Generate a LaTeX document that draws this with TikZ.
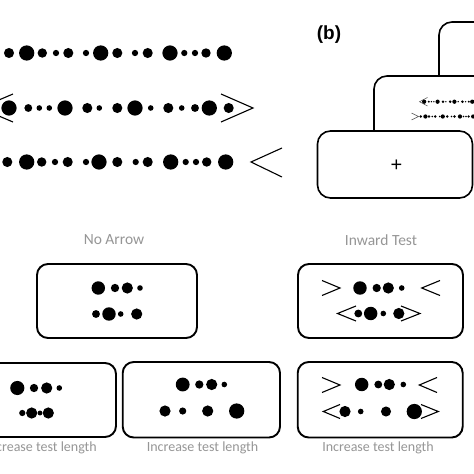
\documentclass[tikz,border=0pt]{standalone}
\usepackage{fontspec}
\setmainfont{Liberation Sans}
\newfontfamily\labfont{Carlito}
\definecolor{labgray}{RGB}{150,150,150}
\newcommand\dotrow[2]{\foreach \xx/\rr in {#2} {\fill (\xx,#1) circle[radius={1.12*\rr*1pt}];}}
\newcommand\dotrowS[4]{\foreach \xx/\rr in {#4} {\fill ({#1+#3*\xx},#2) circle[radius={max(0.7,1.3*#3*\rr)*1pt}];}}
\tikzset{
  box/.style={draw=black, line width=1.9pt, rounded corners=11pt, fill=white},
  stackbox/.style={draw=black, line width=1.6pt, rounded corners=13pt, fill=white},
  chev/.style={line width=1.1pt, line cap=butt, line join=miter},
  tinychev/.style={line width=0.5pt, draw=black!70},
  toplab/.style={text=labgray, font=\labfont\fontsize{15.5}{18}\selectfont, inner sep=0pt},
  botlab/.style={text=labgray, font=\labfont\fontsize{14}{16}\selectfont, inner sep=0pt},
}
\begin{document}
\begin{tikzpicture}[x=1pt,y=-1pt]
\useasboundingbox (0,0) rectangle (474,474);
\clip (0,0) rectangle (474,474);
\fill[white] (0,0) rectangle (474,474);

% ---------- (a) rows ----------
\dotrow{53}{9/4.5,26.7/6.8,42.3/4.2,56/2.8,68.3/4.5,86/2.8,100.7/6.8,117.3/4.5,135/2.8,147.7/4.5,170/6.8,184.3/2.8,195/2.8,206/4.2,224.3/6.8}
\dotrow{108}{9/6.8,28.3/3.5,39.3/2.5,49.3/2.5,65/6.8,87.3/4.5,99.3/2.5,117.3/4.5,135/6.8,150.7/2.5,168.3/4.5,181.7/2.5,195/3.5,209.3/6.8,228.7/4.5}
\coordinate (la1) at (13,94); \coordinate (lat) at (-20,108); \coordinate (la2) at (13,122);
\coordinate (ra1) at (221,94); \coordinate (rat) at (253,108); \coordinate (ra2) at (221,122);
\draw[chev] (la1) -- (lat) -- (la2);
\draw[chev] (ra1) -- (rat) -- (ra2);
\dotrow{162}{7.3/4.5,26.7/6.8,41.7/4.2,55/2.8,67.7/4.5,86/2.8,99/6.8,117.3/4.5,135.7/2.8,147.7/4.5,170.7/6.8,185.7/2.8,196/2.8,206.7/4.2,225.7/6.8}
\coordinate (c1) at (282,148); \coordinate (ct) at (251,162); \coordinate (c2) at (282,177);
\draw[chev] (c1) -- (ct) -- (c2);

% ---------- (b) ----------
\node[font=\bfseries\fontsize{19}{22}\selectfont, inner sep=0pt] (blab) at (329,35) {(b)};
\draw[stackbox] (439,22) rectangle (520,160);
\draw[stackbox] (374,76) rectangle (520,165);
% tiny rows in middle screen
\coordinate (m1a) at (427.5,97.5); \coordinate (m1t) at (419.5,101.7); \coordinate (m1b) at (427.5,106);
\draw[tinychev] (m1a) -- (m1t) -- (m1b);
\dotrowS{422}{101.7}{0.24}{9/6.8,28.3/3.5,39.3/2.5,49.3/2.5,65/6.8,87.3/4.5,99.3/2.5,117.3/4.5,135/6.8,150.7/2.5,168.3/4.5,181.7/2.5,195/3.5,209.3/6.8,228.7/4.5}
\coordinate (m2a) at (411.5,113); \coordinate (m2t) at (418.5,116.5); \coordinate (m2b) at (411.5,120);
\draw[tinychev] (m2a) -- (m2t) -- (m2b);
\dotrowS{419}{116.5}{0.24}{7.3/4.5,26.7/6.8,41.7/4.2,55/2.8,67.7/4.5,86/2.8,99/6.8,117.3/4.5,135.7/2.8,147.7/4.5,170.7/6.8,185.7/2.8,196/2.8,206.7/4.2,225.7/6.8}
\fill[white] (472.5,131.8) rectangle (476,200);
\draw[stackbox] (317.5,131) rectangle (472.5,198);
\node[font=\fontsize{20}{22}\selectfont, inner sep=0pt] (plus) at (396.5,166) {+};

% ---------- labels ----------
\node[toplab] (noarrow) at (114,240) {No Arrow};
\node[toplab] (inward) at (381,240) {Inward Test};

% ---------- No Arrow box ----------
\draw[box] (37,264) rectangle (197,338);
\dotrow{288}{98.3/6,115/3.7,127.3/5,140/2.5}
\dotrow{314}{96/3.5,109/6,120.7/2.5,136.7/5}

% ---------- Inward Test box ----------
\draw[box] (298,264) rectangle (463,338);
\draw[chev] (322,280.5) -- (340,288) -- (322,295.5);
\dotrow{288}{360/6,376.7/3.7,388.3/5,401.7/2.5}
\draw[chev] (440,280.5) -- (421.7,288) -- (440,295.5);
\draw[chev] (356,306) -- (337.5,313.5) -- (356,321);
\dotrow{313.5}{358.3/3.5,370.7/6,383.3/2.5,398.8/5}
\draw[chev] (401,306) -- (420,313.5) -- (401,321);

% ---------- bottom boxes ----------
\draw[box] (-41,363) rectangle (116,437);
\dotrow{388}{17.3/6.3,34/3.7,46.7/5,59.3/2.5}
\dotrow{413}{22.3/2.8,31.7/5,40/2.2,48.3/5}
\node[botlab] (incA) at (41,448) {Increase test length};

\draw[box] (122.7,362) rectangle (280,437.5);
\dotrow{384.5}{182.7/6.2,199.3/3.7,211.7/5,224.3/2.5}
\dotrow{411}{165/5,182.7/3.2,207.7/5,236.7/6.8}
\node[botlab] (incB) at (202.5,448) {Increase test length};

\draw[box] (297.7,362) rectangle (462.7,437.5);
\draw[chev] (322,377.5) -- (340,385) -- (322,392.5);
\dotrow{384.5}{361.7/6,378.3/3.5,389.3/5,403.3/2.5}
\draw[chev] (437,377.5) -- (419.3,385) -- (437,392.5);
\draw[chev] (340,404.5) -- (323.3,411.5) -- (340,418.5);
\dotrow{411.5}{345/5,360.7/2.5,386/4.5,414.3/6.8}
\draw[chev] (421,404.5) -- (438.3,411.5) -- (421,418.5);
\node[botlab] (incC) at (378,448) {Increase test length};
\end{tikzpicture}
\end{document}
